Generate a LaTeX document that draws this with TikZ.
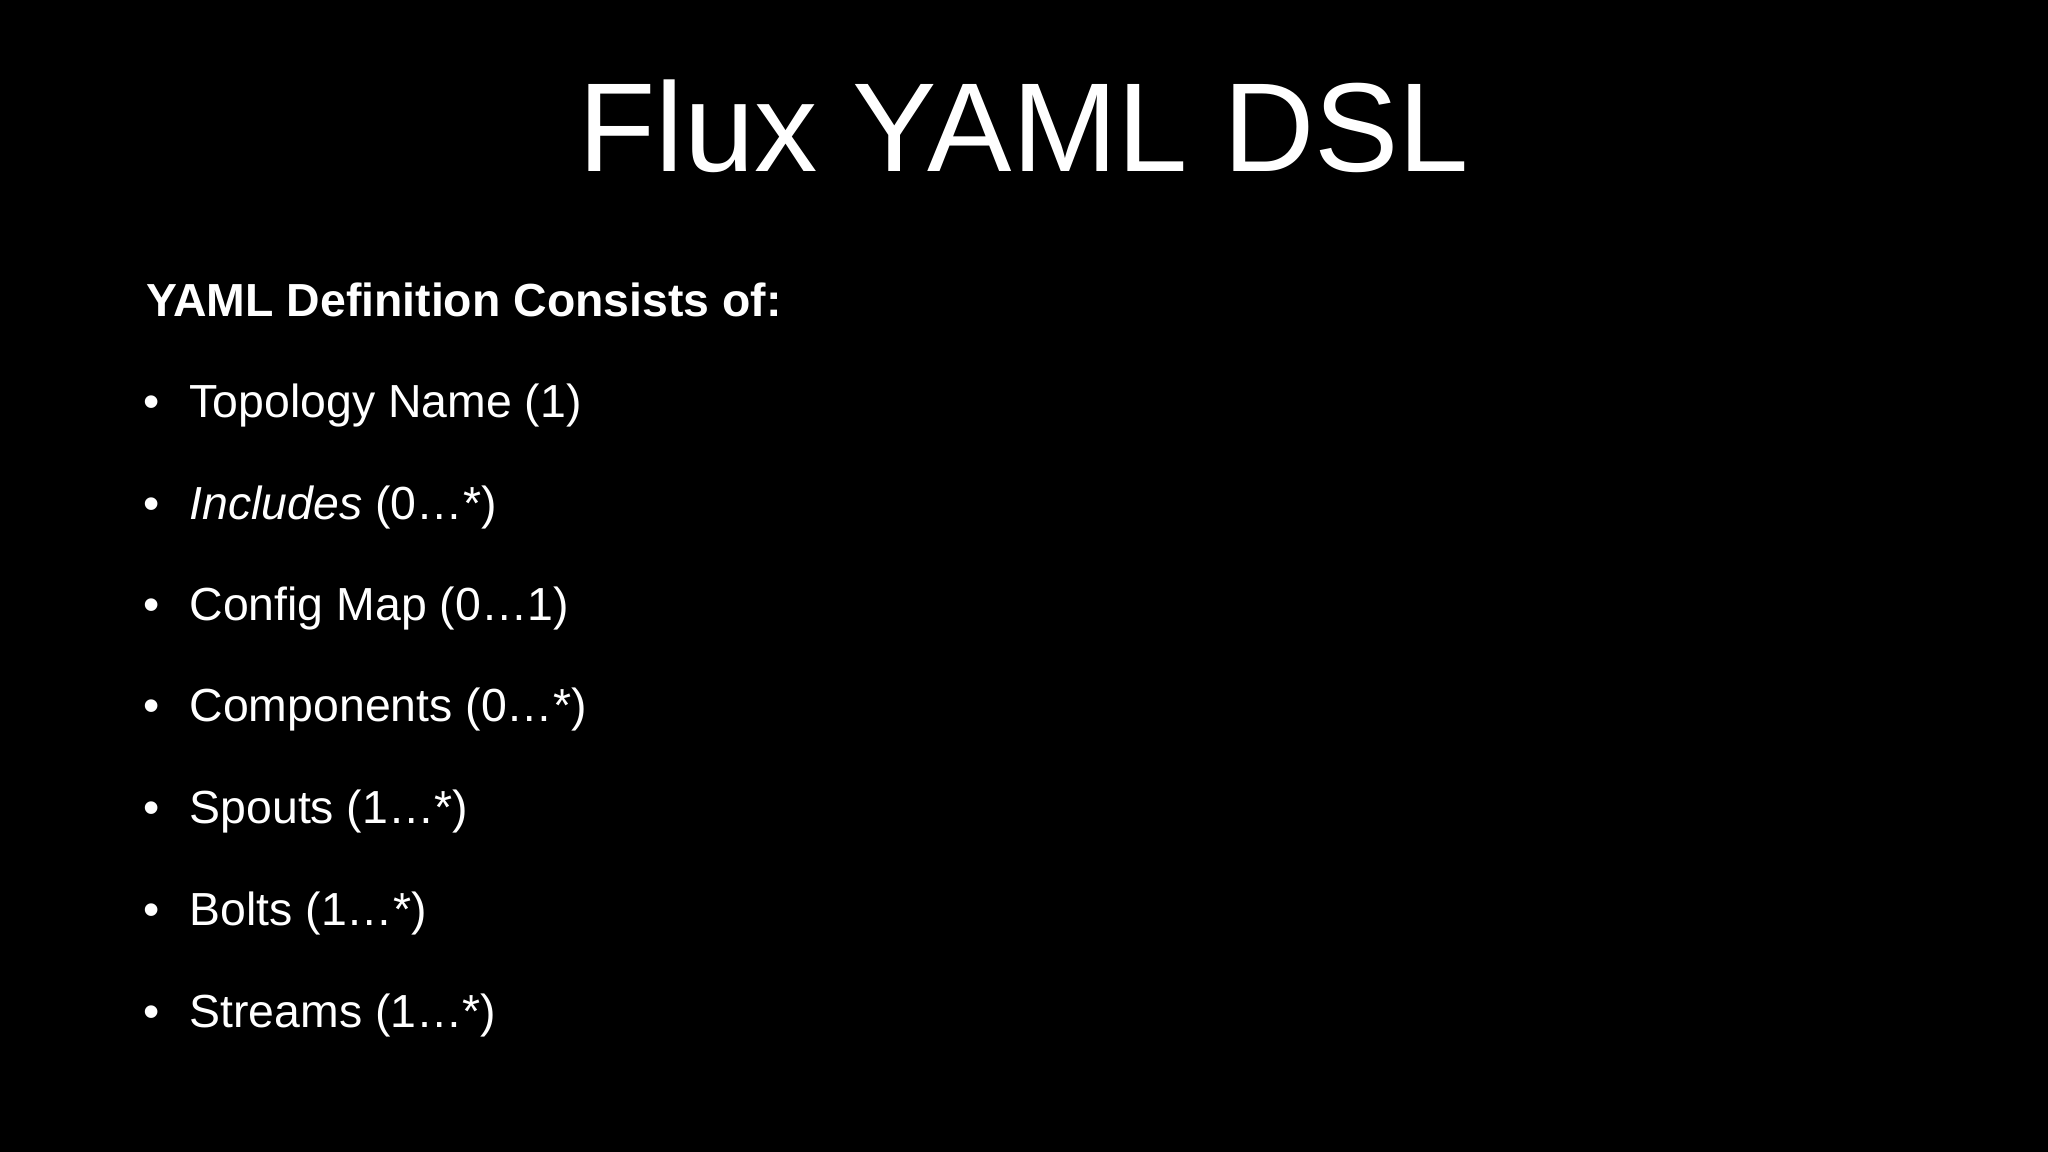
\documentclass[tikz,border=0pt]{standalone}
\usepackage{fontspec}
\setmainfont{Liberation Sans}
\begin{document}
\begin{tikzpicture}[
  txt/.style={anchor=base west, inner sep=0pt, text=white, font=\fontsize{13.2pt}{15pt}\selectfont},
  bul/.style={anchor=base, inner sep=0pt, text=white, font=\fontsize{13.2pt}{15pt}\selectfont}]
\fill[black] (0,0) rectangle (20.48,11.52);
\useasboundingbox (0,0) rectangle (20.48,11.52);
\node[anchor=base, inner sep=0pt, text=white, font=\fontsize{36pt}{40pt}\selectfont] (title) at (10.24,9.80) {Flux YAML DSL};
\node[txt, font=\bfseries\fontsize{13.2pt}{15pt}\selectfont] (head) at (1.46,8.35) {YAML Definition Consists of:};
\foreach \i/\t [count=\n] in {4.18/{Topology Name (1)},5.20/{\textit{Includes} (0…*)},6.21/{Config Map (0…1)},7.22/{Components (0…*)},8.24/{Spouts (1…*)},9.26/{Bolts (1…*)},10.28/{Streams (1…*)}}{
  \node[bul] (b\n) at (1.52,11.52-\i) {•};
  \node[txt] (t\n) at (1.89,11.52-\i) {\t};
}
\end{tikzpicture}
\end{document}
